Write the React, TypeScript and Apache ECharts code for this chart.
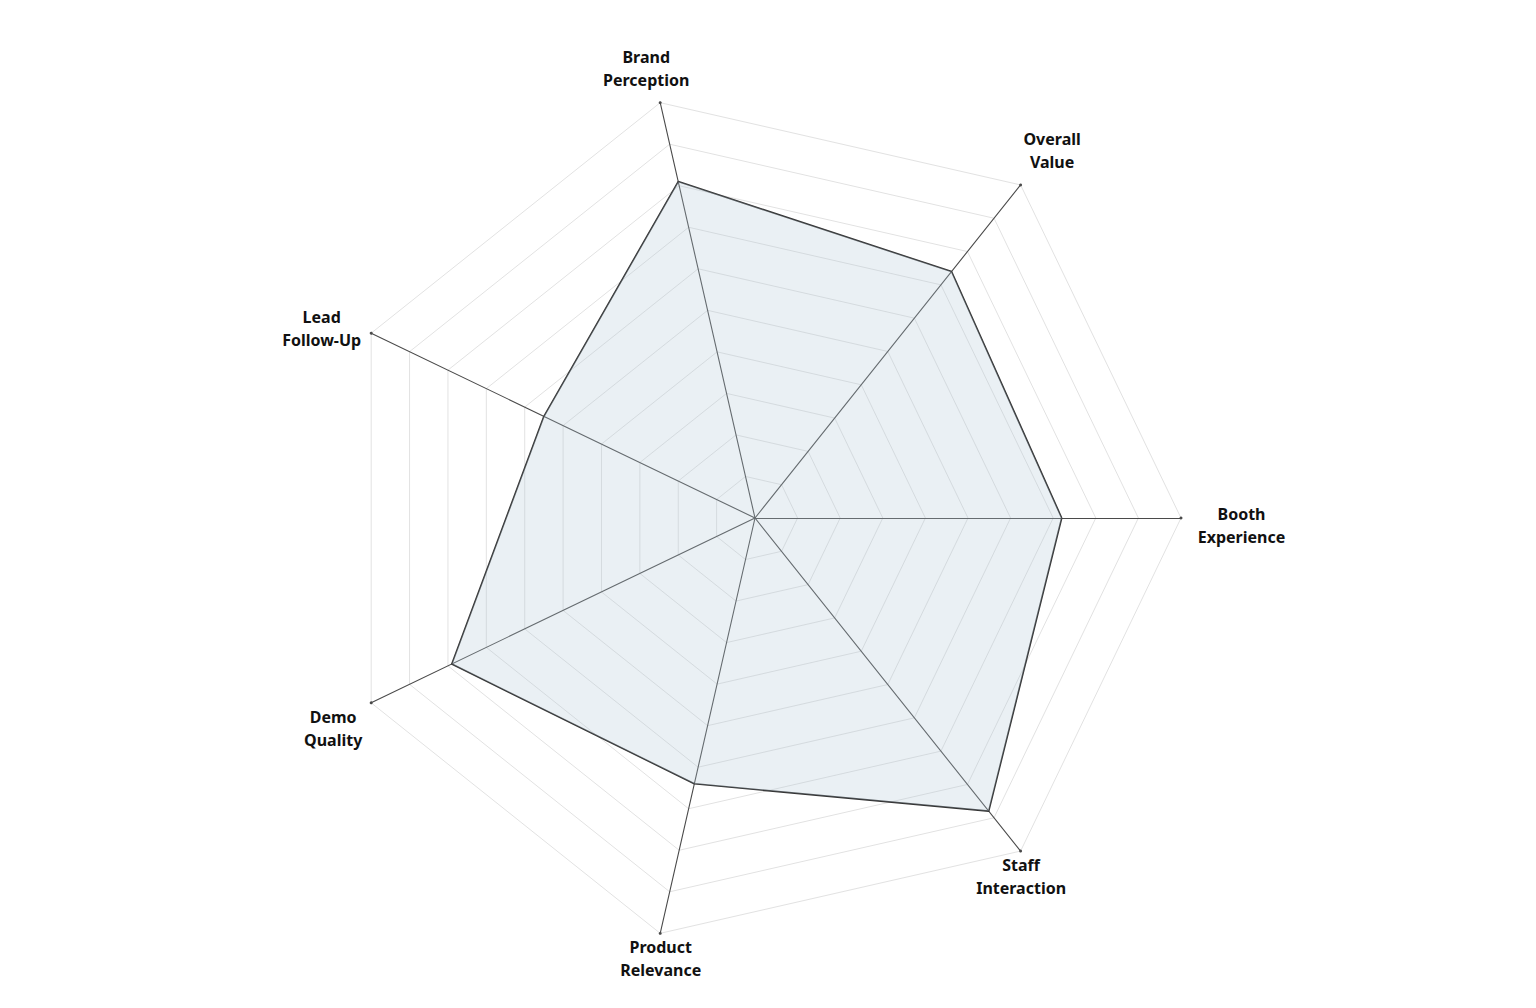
import * as echarts from "echarts";
import { useEffect, useRef } from "react";

const INK = "#111111";
const AXIS = "#4a4a4a";
const GRID = "#e2e2e2";

const indicators = [
  "Booth\nExperience",
  "Overall\nValue",
  "Brand\nPerception",
  "Lead\nFollow-Up",
  "Demo\nQuality",
  "Product\nRelevance",
  "Staff\nInteraction",
];
const scores = [7.2, 7.4, 8.1, 5.5, 7.9, 6.4, 8.8];
const maxScore = 10;

// layout
const CX = 755;
const CY = 518;
const RADIUS = 426;
const START_ANGLE = 0;
// label block centre, relative to each axis end
const labelOffsets: [number, number][] = [
  [60.5, 7.5],
  [31.5, -34.5],
  [-14, -34.5],
  [-49.5, -4.5],
  [-38, 25.5],
  [0.5, 25.5],
  [0.5, 25.5],
];

export default function App() {
  const ref = useRef<HTMLDivElement>(null);

  useEffect(() => {
    const el = ref.current;
    if (!el) return;
    const chart = echarts.init(el, null, { renderer: "svg" });
    const step = (2 * Math.PI) / indicators.length;
    const labels = indicators.map((name, i) => {
      const a = (START_ANGLE * Math.PI) / 180 + i * step;
      const ex = CX + RADIUS * Math.cos(a);
      const ey = CY - RADIUS * Math.sin(a);
      return {
        type: "text",
        x: ex + labelOffsets[i][0],
        y: ey + labelOffsets[i][1],
        silent: true,
        style: {
          text: name,
          fill: INK,
          fontFamily: "Noto Sans",
          fontWeight: "bold",
          fontSize: 16,
          lineHeight: 23,
          align: "center",
          verticalAlign: "middle",
        },
      };
    });
    chart.setOption({
      animation: false,
      radar: {
        center: [`${CX}px`, `${CY}px`],
        radius: RADIUS,
        startAngle: START_ANGLE,
        splitNumber: 10,
        shape: "polygon",
        indicator: indicators.map((name) => ({ name, max: maxScore, min: 0 })),
        axisName: { show: false },
        axisLine: {
          symbol: ["none", "circle"],
          symbolSize: [3, 3],
          lineStyle: { color: AXIS, width: 1.1 },
        },
        splitLine: { lineStyle: { color: GRID, width: 1 } },
        splitArea: { show: false },
      },
      graphic: labels,
      series: [
        {
          type: "radar",
          symbol: "none",
          data: [
            {
              value: scores,
              lineStyle: { color: "#333333", width: 1.6 },
              areaStyle: { color: "rgba(178,198,216,0.27)", opacity: 1 },
            },
          ],
        },
      ],
    });
    const onResize = () => chart.resize();
    window.addEventListener("resize", onResize);
    return () => {
      window.removeEventListener("resize", onResize);
      chart.dispose();
    };
  }, []);

  return (
    <div
      ref={ref}
      style={{ position: "fixed", left: 0, top: 0, width: 1536, height: 1008, background: "#ffffff" }}
    />
  );
}
